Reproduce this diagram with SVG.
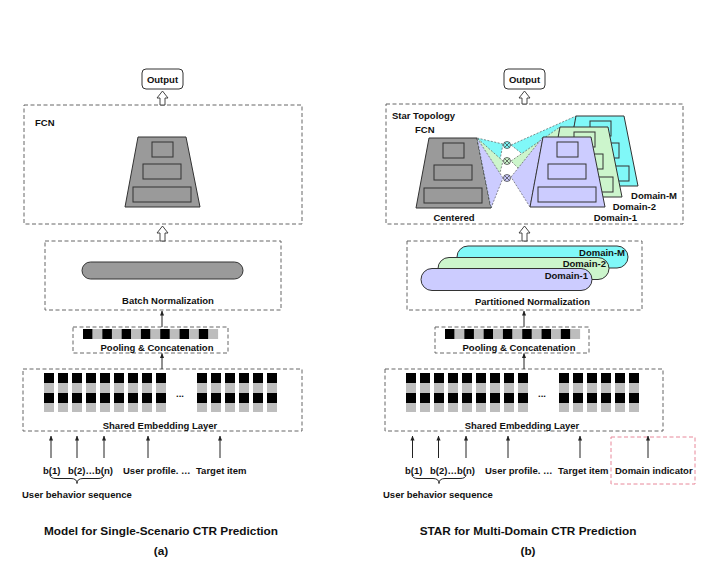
<svg xmlns="http://www.w3.org/2000/svg" xmlns:xlink="http://www.w3.org/1999/xlink" width="720" height="585" viewBox="0 0 720 585">
<style>
text{font-family:"Liberation Sans",Arial,sans-serif;font-weight:bold;font-size:9.5px;fill:#111}
.cap{font-size:11.8px}
.dbox{fill:none;stroke:#666;stroke-width:1;stroke-dasharray:4,2.5}
.hollow{fill:#fff;stroke:#333;stroke-width:0.9}
.ln{stroke:#222;stroke-width:1;fill:none}
.gray{fill:#9a9a9a;stroke:#333;stroke-width:1}
.pur{fill:#ccccff;stroke:#333;stroke-width:1}
.grn{fill:#ccf5cc;stroke:#333;stroke-width:1}
.cyn{fill:#80f8f8;stroke:#333;stroke-width:1}
.tri{stroke:#444;stroke-width:0.6;stroke-dasharray:2,1.5}
.blk{fill:#000}
.lg{fill:#bdbdbd}
</style>
<defs>
<marker id="ah" viewBox="0 0 6 6" refX="5.5" refY="3" markerWidth="5" markerHeight="5" orient="auto"><path d="M0,0.5 L6,3 L0,5.5 z" fill="#222"/></marker>
<g id="col"><rect class="blk" x="0" y="373" width="10" height="10"/><rect class="lg" x="0" y="383" width="10" height="10"/><rect class="blk" x="0" y="393" width="10" height="10"/><rect class="lg" x="0" y="403" width="10" height="9"/></g>
<g id="pair"><rect class="blk" x="0" y="329" width="9.7" height="10"/><rect class="lg" x="9.6" y="329" width="9.7" height="10"/></g>
<g id="trap"><polygon points="13,0 61,0 75,70 0,70"/><rect x="27" y="5" width="21" height="15"/><rect x="18" y="27" width="38" height="15"/><rect x="8" y="50" width="58" height="15"/></g>
</defs>

<!-- ===== (a) left panel ===== -->
<g id="a-output"><rect x="142" y="69" width="41" height="20" rx="4" fill="#fff" stroke="#333"/><text x="162.5" y="82.5" text-anchor="middle">Output</text></g>
<g id="a-fcn">
<rect class="dbox" x="24" y="105" width="278" height="119"/>
<text x="35" y="126">FCN</text>
<use xlink:href="#trap" class="gray" transform="translate(125,137)"/>
</g>
<g id="a-bn">
<rect class="dbox" x="45" y="241" width="236" height="69"/>
<rect x="82" y="262" width="161" height="17" rx="8.5" class="gray"/>
<text x="168" y="303.5" text-anchor="middle">Batch Normalization</text>
</g>
<g id="a-pool">
<rect class="dbox" x="73" y="327" width="155" height="26"/>
<use xlink:href="#pair" x="83"/><use xlink:href="#pair" x="102.3"/><use xlink:href="#pair" x="121.6"/><use xlink:href="#pair" x="140.9"/><use xlink:href="#pair" x="160.2"/><use xlink:href="#pair" x="179.5"/><use xlink:href="#pair" x="198.8"/>
<text x="157" y="351" text-anchor="middle">Pooling &amp; Concatenation</text>
</g>
<g id="a-emb">
<rect class="dbox" x="23" y="369" width="279" height="62"/>
<use xlink:href="#col" x="44"/><use xlink:href="#col" x="58"/><use xlink:href="#col" x="72"/><use xlink:href="#col" x="86"/><use xlink:href="#col" x="100"/><use xlink:href="#col" x="114"/><use xlink:href="#col" x="128"/><use xlink:href="#col" x="142"/><use xlink:href="#col" x="156"/>
<text x="180" y="397" text-anchor="middle">...</text>
<use xlink:href="#col" x="197"/><use xlink:href="#col" x="211"/><use xlink:href="#col" x="225"/><use xlink:href="#col" x="239"/><use xlink:href="#col" x="253"/><use xlink:href="#col" x="267"/>
<text x="160" y="428.5" text-anchor="middle">Shared Embedding Layer</text>
</g>
<g id="a-inputs">
<text x="43" y="474">b(1)</text>
<text x="68" y="474">b(2)…b(n)</text>
<text x="123" y="474">User profile. …</text>
<text x="196" y="474">Target item</text>
<path class="ln" d="M50,474.5 q0,4 6,4 h15 q6,0 6,5 q0,-5 6,-5 h15 q6,0 6,-4" stroke-width="0.8"/>
<text x="22" y="497.5">User behavior sequence</text>
</g>
<g id="a-caption">
<text class="cap" x="161" y="535" text-anchor="middle">Model for Single-Scenario CTR Prediction</text>
<text class="cap" x="161" y="555" text-anchor="middle">(a)</text>
</g>

<!-- ===== (b) right panel ===== -->
<g id="b-output"><rect x="504" y="69" width="41" height="20" rx="4" fill="#fff" stroke="#333"/><text x="524.5" y="82.5" text-anchor="middle">Output</text></g>
<g id="b-star">
<rect class="dbox" x="386" y="104" width="297" height="120"/>
<text x="392" y="118.5">Star Topology</text>
<text x="415" y="132.5">FCN</text>
<use xlink:href="#trap" class="gray" transform="translate(416,138)"/>
<text x="454" y="220.5" text-anchor="middle">Centered</text>
<!-- left fans -->
<polygon class="cyn tri" points="503,144 477,138 491,208"/>
<polygon class="grn tri" points="503,161 477,138 491,208"/>
<polygon class="pur tri" points="503,178 477,138 491,208"/>
<!-- right fans and domain FCNs -->
<polygon class="cyn tri" points="511,145 576,116 563,186"/>
<use xlink:href="#trap" class="cyn" transform="translate(563,116)"/>
<polygon class="grn tri" points="511,161 560,127 547,197"/>
<use xlink:href="#trap" class="grn" transform="translate(547,127)"/>
<polygon class="pur tri" points="511,177 543,137 530,207"/>
<use xlink:href="#trap" class="pur" transform="translate(530,137)"/>
<g stroke="#333" stroke-width="0.7">
<circle cx="507" cy="145" r="3.5" fill="#80f8f8"/><path d="M504.5,142.5 l5,5 M509.5,142.5 l-5,5"/>
<circle cx="507" cy="161" r="3.5" fill="#ccf5cc"/><path d="M504.5,158.5 l5,5 M509.5,158.5 l-5,5"/>
<circle cx="507" cy="178" r="3.5" fill="#ccccff"/><path d="M504.5,175.5 l5,5 M509.5,175.5 l-5,5"/>
</g>
<text x="677" y="198.5" text-anchor="end">Domain-M</text>
<text x="656" y="209.5" text-anchor="end">Domain-2</text>
<text x="637" y="220.5" text-anchor="end">Domain-1</text>
</g>
<g id="b-pn">
<rect class="dbox" x="407" y="241" width="235" height="69"/>
<rect x="457" y="246" width="171" height="22" rx="11" class="cyn"/>
<text x="625" y="256" text-anchor="end">Domain-M</text>
<rect x="438" y="257.5" width="171" height="22" rx="11" class="grn"/>
<text x="606" y="267" text-anchor="end">Domain-2</text>
<rect x="421" y="268.5" width="171" height="22" rx="11" class="pur"/>
<text x="588" y="279" text-anchor="end">Domain-1</text>
<text x="532.5" y="304.5" text-anchor="middle">Partitioned Normalization</text>
</g>
<g id="b-pool">
<rect class="dbox" x="435" y="327" width="154" height="26"/>
<use xlink:href="#pair" x="445"/><use xlink:href="#pair" x="464.3"/><use xlink:href="#pair" x="483.6"/><use xlink:href="#pair" x="502.9"/><use xlink:href="#pair" x="522.2"/><use xlink:href="#pair" x="541.5"/><use xlink:href="#pair" x="560.8"/>
<text x="519" y="351" text-anchor="middle">Pooling &amp; Concatenation</text>
</g>
<g id="b-emb">
<rect class="dbox" x="385" y="369" width="278" height="62"/>
<use xlink:href="#col" x="406"/><use xlink:href="#col" x="420"/><use xlink:href="#col" x="434"/><use xlink:href="#col" x="448"/><use xlink:href="#col" x="462"/><use xlink:href="#col" x="476"/><use xlink:href="#col" x="490"/><use xlink:href="#col" x="504"/><use xlink:href="#col" x="518"/>
<text x="542" y="397" text-anchor="middle">...</text>
<use xlink:href="#col" x="559"/><use xlink:href="#col" x="573"/><use xlink:href="#col" x="587"/><use xlink:href="#col" x="601"/><use xlink:href="#col" x="615"/><use xlink:href="#col" x="629"/>
<text x="522" y="428.5" text-anchor="middle">Shared Embedding Layer</text>
</g>
<g id="b-inputs">
<text x="405" y="474">b(1)</text>
<text x="430" y="474">b(2)…b(n)</text>
<text x="485" y="474">User profile. …</text>
<text x="558" y="474">Target item</text>
<path class="ln" d="M412,474.5 q0,4 6,4 h15 q6,0 6,5 q0,-5 6,-5 h15 q6,0 6,-4" stroke-width="0.8"/>
<text x="383" y="497.5">User behavior sequence</text>
</g>
<g id="b-domain-indicator">
<rect x="611" y="437" width="84" height="47" fill="none" stroke="#e8889a" stroke-width="1" stroke-dasharray="4,2.5"/>
<text x="615" y="473.5">Domain indicator</text>
</g>
<g id="b-caption">
<text class="cap" x="528" y="535" text-anchor="middle">STAR for Multi-Domain CTR Prediction</text>
<text class="cap" x="528" y="555" text-anchor="middle">(b)</text>
</g>

<!-- ===== connectors ===== -->
<g id="connectors">
<polygon class="hollow" points="162.5,91 168,98 165,98 165,105 160,105 160,98 157,98"/>
<polygon class="hollow" points="162.5,226 168,233 165,233 165,241 160,241 160,233 157,233"/>
<polygon class="hollow" points="524.5,91 530,98 527,98 527,104 522,104 522,98 519,98"/>
<polygon class="hollow" points="524.5,226 530,233 527,233 527,241 522,241 522,233 519,233"/>
<line class="ln" x1="162" y1="327" x2="162" y2="311" marker-end="url(#ah)"/>
<line class="ln" x1="162" y1="369" x2="162" y2="353.5" marker-end="url(#ah)"/>
<line class="ln" x1="524" y1="327" x2="524" y2="311" marker-end="url(#ah)"/>
<line class="ln" x1="524" y1="369" x2="524" y2="353.5" marker-end="url(#ah)"/>
<line class="ln" x1="51" y1="458" x2="51" y2="436" marker-end="url(#ah)"/>
<line class="ln" x1="77" y1="458" x2="77" y2="436" marker-end="url(#ah)"/>
<line class="ln" x1="104" y1="458" x2="104" y2="436" marker-end="url(#ah)"/>
<line class="ln" x1="148" y1="458" x2="148" y2="436" marker-end="url(#ah)"/>
<line class="ln" x1="220" y1="458" x2="220" y2="436" marker-end="url(#ah)"/>
<line class="ln" x1="412.5" y1="458" x2="412.5" y2="436" marker-end="url(#ah)"/>
<line class="ln" x1="438.5" y1="458" x2="438.5" y2="436" marker-end="url(#ah)"/>
<line class="ln" x1="466" y1="458" x2="466" y2="436" marker-end="url(#ah)"/>
<line class="ln" x1="508" y1="458" x2="508" y2="436" marker-end="url(#ah)"/>
<line class="ln" x1="580" y1="458" x2="580" y2="436" marker-end="url(#ah)"/>
<line class="ln" x1="648" y1="458" x2="648" y2="436" marker-end="url(#ah)"/>
</g>
</svg>
